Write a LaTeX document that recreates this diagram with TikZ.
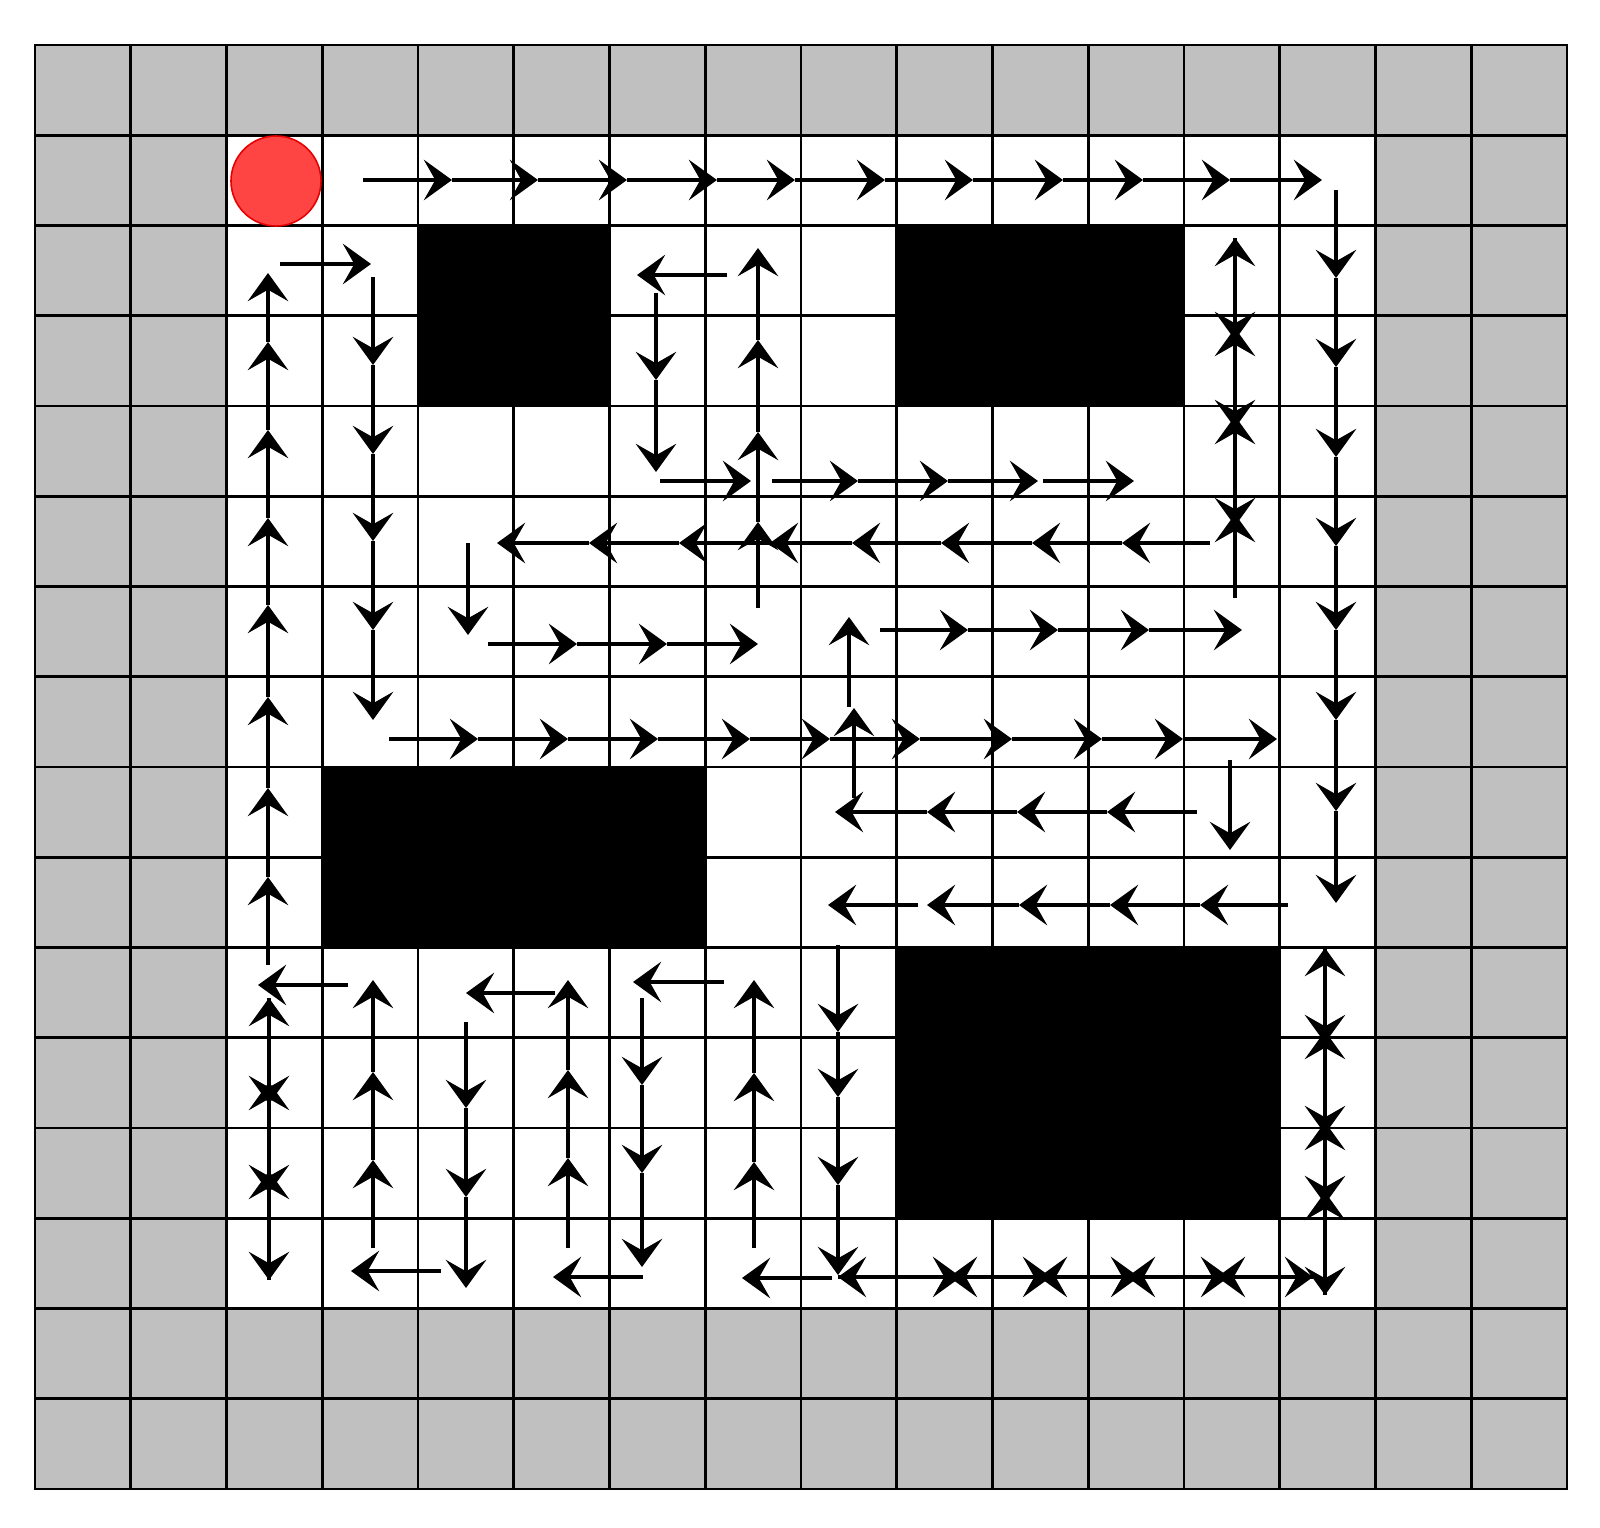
\documentclass[tikz,border=0pt]{standalone}
\usetikzlibrary{arrows.meta}
\definecolor{cellgray}{RGB}{192,192,192}
\definecolor{robotfill}{RGB}{255,68,68}
\definecolor{robotedge}{RGB}{230,0,0}
\tikzset{
  gridline/.style={line width=1.5pt, black},
  arr/.style={line width=2.5pt, -{Stealth[length=16pt,width=23pt,inset=6.5pt]}},
}
\newcommand\hchain[2]{\foreach \a/\b in {#2} {\draw[arr] (\a,#1) -- (\b,#1);}}
\newcommand\vchain[2]{\foreach \a/\b in {#2} {\draw[arr] (#1,\a) -- (#1,\b);}}
\begin{document}
\begin{tikzpicture}[x=0.02cm,y=-0.02cm]
\useasboundingbox (0,0) rectangle (1600,1528);
\fill[white] (0,0) rectangle (1600,1528);
% background cells
\fill[cellgray] (35,45) rectangle (1567,1489);
\fill[white] (226.5,135.25) rectangle (1375.5,1308.5);
% grid
\foreach \c in {0,...,16} {\draw[gridline] ({35+95.75*\c},45) -- ({35+95.75*\c},1489);}
\foreach \r in {0,...,16} {\draw[gridline] (35,{45+90.25*\r}) -- (1567,{45+90.25*\r});}
\draw[gridline] (35,45) rectangle (1567,1489);
% obstacles
\fill[black] (418,225.5) rectangle (609.5,406);
\fill[black] (896.75,225.5) rectangle (1184,406);
\fill[black] (322.25,767) rectangle (705.25,947.5);
\fill[black] (896.75,947.5) rectangle (1279.75,1218.25);
% robot
\node[circle, minimum size=90*0.02cm, inner sep=0pt, fill=robotfill, draw=robotedge, line width=0.9pt] (robot) at (276,181) {};
% ---- path ----
\hchain{180}{363/452,452/538,538/627,627/717,717/795,795/885,885/973,973/1063,1063/1143,1143/1230,1230/1322}
\vchain{1336}{190/278,278/367,367/457,457/546,546/630,630/720,720/811,811/903}
\hchain{905}{1288/1200,1200/1110,1110/1019,1019/927,918/828}
\vchain{838}{945/1032,1032/1097,1097/1185,1185/1275}
\hchain{1277}{838/961,961/1051,1051/1139,1139/1229,1229/1313}
\hchain{1277}{1313/1217,1217/1127,1127/1039,1039/949,949/838}
\vchain{1325}{1295/1192,1192/1122,1122/1031,1031/948}
\vchain{1325}{948/1043,1043/1134,1134/1204,1204/1295}
\hchain{1278}{832/742}
\vchain{754}{1248/1162,1162/1073,1073/980}
\hchain{982}{724/633}
\vchain{642}{998/1085,1085/1173,1173/1267}
\hchain{1277}{643/553}
\vchain{568}{1248/1158,1158/1070,1070/980}
\hchain{993}{555/466}
\vchain{466}{1022/1108,1108/1197,1197/1288}
\hchain{1271}{441/351}
\vchain{373}{1248/1160,1160/1072,1072/980}
\hchain{985}{348/258}
\vchain{269}{998/1104,1104/1193,1193/1280}
\vchain{269}{1280/1171,1171/1082,1082/998}
\vchain{268}{965/877,877/788,788/697,697/605,605/518,518/430,430/342,342/273}
\hchain{264}{280/371}
\vchain{373}{277/365,365/454,454/541,541/630,630/720}
\hchain{739}{389/478,478/568,568/658,658/750,750/830,830/920,920/1012,1012/1102,1102/1183,1183/1277}
\vchain{1230}{760/850}
\hchain{812}{1197/1107,1107/1017,1017/927,927/835}
\vchain{854}{798/708}
\vchain{849}{707/617}
\hchain{630}{880/968,968/1058,1058/1149,1149/1242}
\vchain{1235}{598/514,514/416,416/328,328/238}
\vchain{1235}{238/340,340/428,428/526}
\hchain{543}{1210/1122,1122/1032,1032/941,941/852,852/770,770/679,679/589,589/497}
\vchain{468}{543/635}
\hchain{644}{488/577,577/667,667/758}
\vchain{758}{608/522,522/432,432/340,340/248}
\hchain{275}{727/637}
\vchain{656}{293/380,380/472}
\hchain{481}{660/751,772/858,858/948,948/1038,1043/1134}
\end{tikzpicture}
\end{document}
